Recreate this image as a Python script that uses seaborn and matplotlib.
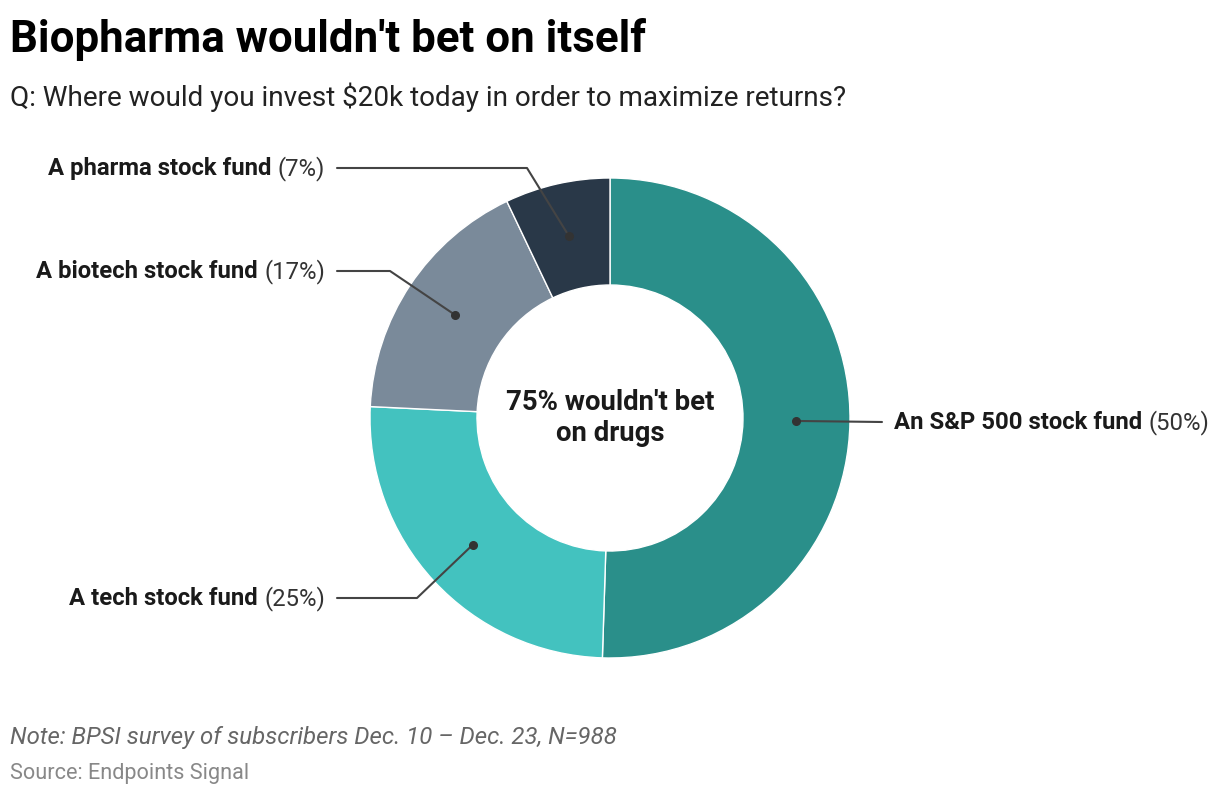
import numpy as np
import matplotlib
matplotlib.use("Agg")
import matplotlib.pyplot as plt
import seaborn as sns

# data
funds = ["An S&P 500 stock fund", "A tech stock fund", "A biotech stock fund", "A pharma stock fund"]
shares = [50, 25, 17, 7]
pct_labels = ["(50%)", "(25%)", "(17%)", "(7%)"]
colors = ["#2a8f8a", "#43c2bf", "#7a8a9a", "#293848"]

sns.set_theme(style="white")
plt.rcParams["font.family"] = ["Roboto", "DejaVu Sans"]

W, H = 1220, 796
fig = plt.figure(figsize=(W / 100, H / 100), dpi=100)
ax = fig.add_axes([0, 0, 1, 1])

cx, cy = 610, H - 418
r_out, r_in = 240, 133
wedges, _ = ax.pie(shares, colors=colors, startangle=90, counterclock=False,
                   center=(cx, cy), radius=r_out, frame=True,
                   wedgeprops=dict(width=r_out - r_in, edgecolor="white", linewidth=1))
ax.set_xlim(0, W)
ax.set_ylim(0, H)
ax.axis("off")

ax.text(cx, cy, "75% wouldn't bet\non drugs", ha="center", va="center",
        fontsize=19.8, fontweight="bold", color="#1a1a1a", linespacing=1.15)

# leader lines: label y (from top), elbow x
label_y = [422, 598, 271, 168]
elbow_x = [None, 417, 390, 527]
fs = 17.2
r_mid = (r_out + r_in) / 2
fig.canvas.draw()
renderer = fig.canvas.get_renderer()
for i, w in enumerate(wedges):
    ang = np.deg2rad((w.theta1 + w.theta2) / 2)
    dx, dy = cx + r_mid * np.cos(ang), cy + r_mid * np.sin(ang)
    ly = H - label_y[i]
    ax.plot(dx, dy, "o", color="#333333", ms=5.5, zorder=5)
    if i == 0:
        ax.plot([dx, 882], [dy, ly], color="#444444", lw=1.5, zorder=4)
        t = ax.text(894, ly - 7, funds[i], ha="left", va="baseline", fontsize=fs,
                    fontweight="bold", color="#1a1a1a")
        bb = t.get_window_extent(renderer)
        ax.text(bb.x1 + 6, ly - 7, pct_labels[i], ha="left", va="baseline",
                fontsize=fs, color="#333333")
    else:
        ax.plot([dx, elbow_x[i], 337], [dy, ly, ly], color="#444444", lw=1.5, zorder=4)
        t = ax.text(325, ly - 7, pct_labels[i], ha="right", va="baseline",
                    fontsize=fs, color="#333333")
        bb = t.get_window_extent(renderer)
        ax.text(bb.x0 - 6, ly - 7, funds[i], ha="right", va="baseline", fontsize=fs,
                fontweight="bold", color="#1a1a1a")

fig.text(10 / W, 1 - 52 / H, "Biopharma wouldn't bet on itself", ha="left", va="baseline",
         fontsize=31.6, fontweight="bold", color="#000000")
fig.text(10 / W, 1 - 106 / H, "Q: Where would you invest $20k today in order to maximize returns?",
         ha="left", va="baseline", fontsize=20.1, color="#222222")
fig.text(10 / W, 1 - 744 / H, "Note: BPSI survey of subscribers Dec. 10 \u2013 Dec. 23, N=988",
         ha="left", va="baseline", fontsize=17.3, style="italic", color="#666666")
fig.text(10 / W, 1 - 779 / H, "Source: Endpoints Signal", ha="left", va="baseline",
         fontsize=15.6, color="#888888")

fig.savefig("out.png", dpi=100, facecolor="white")
